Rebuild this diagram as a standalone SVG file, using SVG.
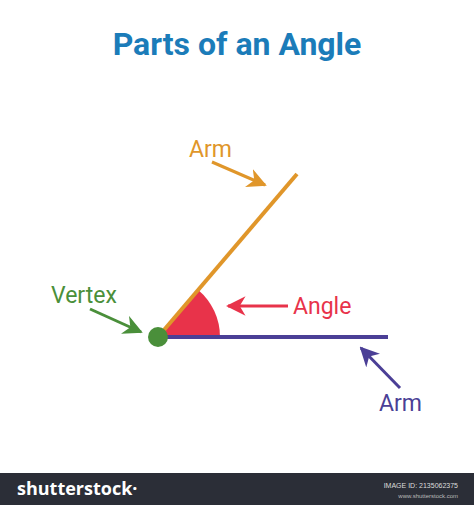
<svg xmlns="http://www.w3.org/2000/svg" width="474" height="505" viewBox="0 0 474 505">
<defs>
<style>
.lbl{font-family:Roboto,"Liberation Sans",sans-serif;font-size:23px}
.title{font-family:Roboto,"Liberation Sans",sans-serif;font-size:32px;font-weight:bold;fill:#1b7cb9}
</style>
<marker id="aO" viewBox="0 0 10 10" refX="9" refY="5" markerWidth="6.5" markerHeight="6.5" orient="auto"><path d="M0,0 L10,5 L0,10 L3,5 Z" fill="#e0962a"/></marker>
<marker id="aG" viewBox="0 0 10 10" refX="9" refY="5" markerWidth="6.5" markerHeight="6.5" orient="auto"><path d="M0,0 L10,5 L0,10 L3,5 Z" fill="#4a8f3a"/></marker>
<marker id="aR" viewBox="0 0 10 10" refX="9" refY="5" markerWidth="6.5" markerHeight="6.5" orient="auto"><path d="M0,0 L10,5 L0,10 L3,5 Z" fill="#e8334a"/></marker>
<marker id="aP" viewBox="0 0 10 10" refX="9" refY="5" markerWidth="6.5" markerHeight="6.5" orient="auto"><path d="M0,0 L10,5 L0,10 L3,5 Z" fill="#4b3f96"/></marker>
</defs>
<rect width="474" height="505" fill="#fff"/>
<text class="title" x="237" y="55" text-anchor="middle">Parts of an Angle</text>
<g id="angle">
<path d="M158,337 L220,337 A62,62 0 0 0 198.3,289.9 Z" fill="#e8334a"/>
</g>
<g id="arm-horizontal">
<line x1="158" y1="337" x2="388" y2="337" stroke="#4b3f96" stroke-width="4"/>
</g>
<g id="arm-slanted">
<line x1="158" y1="337" x2="297" y2="174" stroke="#e0962a" stroke-width="4"/>
</g>
<g id="vertex">
<circle cx="158" cy="337" r="10" fill="#4a8f3a"/>
</g>
<g id="connectors" stroke-width="3" fill="none">
<line x1="212" y1="162" x2="265" y2="185" stroke="#e0962a" marker-end="url(#aO)"/>
<line x1="90" y1="309" x2="141" y2="332" stroke="#4a8f3a" marker-end="url(#aG)"/>
<line x1="288" y1="306" x2="228" y2="306" stroke="#e8334a" marker-end="url(#aR)"/>
<line x1="400" y1="388" x2="361" y2="348" stroke="#4b3f96" marker-end="url(#aP)"/>
</g>
<g id="labels">
<text class="lbl" x="189" y="157" fill="#e0962a">Arm</text>
<text class="lbl" x="51" y="303" fill="#4a8f3a">Vertex</text>
<text class="lbl" x="293" y="314" fill="#e8334a">Angle</text>
<text class="lbl" x="379" y="411" fill="#4b3f96">Arm</text>
</g>
<g id="footer">
<rect x="0" y="473" width="474" height="32" fill="#2b2e37"/>
<text x="17" y="495" font-family="'Open Sans','Liberation Sans',sans-serif" font-size="18" font-weight="bold" fill="#fff">shutterstock·</text>
<text x="458" y="488" text-anchor="end" font-family="'Liberation Sans',sans-serif" font-size="7" fill="#ddd">IMAGE ID: 2135062375</text>
<text x="458" y="498" text-anchor="end" font-family="'Liberation Sans',sans-serif" font-size="6" fill="#bbb">www.shutterstock.com</text>
</g>
</svg>
